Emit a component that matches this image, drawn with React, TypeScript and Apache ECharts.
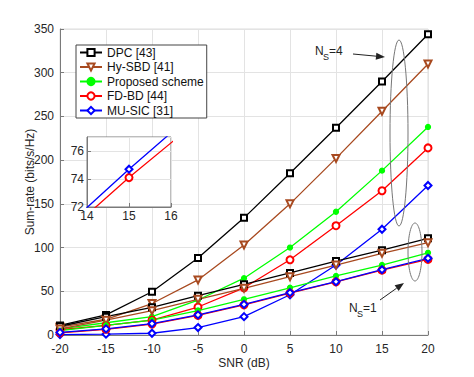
import React, { useEffect, useRef } from 'react';
import * as echarts from 'echarts';

const snr = [-20, -15, -10, -5, 0, 5, 10, 15, 20];
const names = ['DPC [43]', 'Hy-SBD [41]', 'Proposed scheme', 'FD-BD [44]', 'MU-SIC [31]'];
const colors = ['#000000', '#A84A20', '#00FF00', '#FF0000', '#0000FF'];
const symbols = ['emptyRect', 'emptyTriangle', 'circle', 'emptyCircle', 'emptyDiamond'];
const rotations = [0, 180, 0, 0, 0];
const sizes = [6, 7, 5, 7, 7];

// Ns = 4
const dpcNs4 = [11, 23, 49.5, 88, 134, 185, 237, 290, 344];
const hySbdNs4 = [9, 18, 36, 63, 103, 150, 202, 256, 310];
const proposedNs4 = [7, 14, 21, 40, 65, 100, 141, 188, 238];
const fdBdNs4 = [6, 11, 17, 32, 54, 86, 125, 165, 214];
const muSicNs4 = [0.5, 1, 2, 8.5, 21, 46, 80, 121, 171];
// Ns = 1
const dpcNs1 = [10, 21, 31.7, 45, 58, 71, 84.6, 97, 110.6];
const hySbdNs1 = [7, 17, 27.8, 40.8, 53.4, 66.7, 80, 93.4, 105.6];
const proposedNs1 = [5, 11, 17, 28, 40.8, 54, 67.5, 80, 94];
const fdBdNs1 = [2.5, 6.5, 12.5, 22.5, 34.5, 48, 60.8, 74.1, 86.5];
const muSicNs1 = [3, 7, 13, 23, 35, 48.4, 61, 74.7, 87.7];

const ns4 = [dpcNs4, hySbdNs4, proposedNs4, fdBdNs4, muSicNs4];
const ns1 = [dpcNs1, hySbdNs1, proposedNs1, fdBdNs1, muSicNs1];

const yTicks = { min: 0, max: 350, interval: 50 };
const xTicks = { min: -20, max: 20, interval: 5 };
const insetX = { min: 14, max: 16, interval: 1 };
const insetY = { min: 72, max: 77, interval: 2 };

const FONT = 'Liberation Sans, Arial, Helvetica, sans-serif';

function arrow(x1: number, y1: number, x2: number, y2: number) {
  const ang = Math.atan2(y2 - y1, x2 - x1);
  const L = 9, W = 3.5;
  const bx = x2 - L * Math.cos(ang), by = y2 - L * Math.sin(ang);
  const px = -Math.sin(ang) * W, py = Math.cos(ang) * W;
  return [
    { type: 'line', shape: { x1, y1, x2: bx, y2: by }, style: { stroke: '#222', lineWidth: 1 }, z: 30 },
    {
      type: 'polygon',
      shape: { points: [[x2, y2], [bx + px, by + py], [bx - px, by - py]] },
      style: { fill: '#222' },
      z: 30,
    },
  ];
}

function nsLabel(x: number, y: number, num: string) {
  return [
    { type: 'text', x, y, z: 30, style: { text: 'N', fontSize: 12, fontFamily: FONT, fill: '#222', verticalAlign: 'middle' } },
    { type: 'text', x: x + 8, y: y + 6, z: 30, style: { text: 'S', fontSize: 9, fontFamily: FONT, fill: '#222', verticalAlign: 'middle' } },
    { type: 'text', x: x + 14, y, z: 30, style: { text: '=' + num, fontSize: 12, fontFamily: FONT, fill: '#222', verticalAlign: 'middle' } },
  ];
}

export default function App() {
  const ref = useRef<HTMLDivElement>(null);
  useEffect(() => {
    if (!ref.current) return;
    const chart = echarts.init(ref.current, null, { renderer: 'svg' });
    const series: any[] = [];
    const mk = (i: number, data: number[], grid: number, z: number) => ({
      name: names[i],
      type: 'line',
      xAxisIndex: grid,
      yAxisIndex: grid,
      data: snr.map((x, k) => [x, data[k]]),
      symbol: symbols[i],
      symbolSize: sizes[i],
      symbolRotate: rotations[i],
      showAllSymbol: true,
      clip: true,
      z,
      lineStyle: { color: colors[i], width: 1.3 },
      itemStyle: { color: colors[i], borderColor: colors[i], borderWidth: 1.3 },
    });
    for (let i = 0; i < 5; i++) series.push(mk(i, ns4[i], 0, 2));
    for (let i = 0; i < 5; i++) series.push(mk(i, ns1[i], 0, 2));
    // inset: zoom of MU-SIC and FD-BD (Ns=1) around SNR = 15 dB
    series.push(mk(3, ns1[3], 1, 12));
    series.push(mk(4, ns1[4], 1, 12));

    const axisCommon = {
      axisLine: { show: true, onZero: false, lineStyle: { color: '#7a7a7a', width: 1 } },
      axisTick: { show: true, inside: true, length: 4, lineStyle: { color: '#7a7a7a' } },
      axisLabel: { color: '#262626', fontSize: 12, fontFamily: FONT },
      splitLine: { show: true, lineStyle: { color: '#e3e3e3', width: 1 } },
    };

    chart.setOption({
      animation: false,
      backgroundColor: '#ffffff',
      textStyle: { fontFamily: FONT },
      grid: [
        { left: 60, right: 46, top: 29, bottom: 42, show: true, borderColor: '#dddddd', borderWidth: 1, backgroundColor: 'transparent' },
        { left: 87, top: 137, width: 84, height: 70, show: true, borderColor: '#7a7a7a', borderWidth: 1, backgroundColor: '#ffffff', z: 10 },
      ],
      xAxis: [
        {
          type: 'value', gridIndex: 0, ...xTicks, ...axisCommon,
          axisLabel: { ...axisCommon.axisLabel, margin: 8 },
          name: 'SNR (dB)', nameLocation: 'middle', nameGap: 22, nameMoveOverlap: false,
          nameTextStyle: { color: '#262626', fontSize: 12, fontFamily: FONT },
        },
        {
          type: 'value', gridIndex: 1, ...insetX, ...axisCommon, z: 11,
          axisLabel: { ...axisCommon.axisLabel, margin: 3 },
        },
      ],
      yAxis: [
        {
          type: 'value', gridIndex: 0, ...yTicks, ...axisCommon,
          axisLabel: { ...axisCommon.axisLabel, margin: 6 },
          name: 'Sum-rate (bits/s/Hz)', nameLocation: 'middle', nameGap: 24, nameMoveOverlap: false,
          nameTextStyle: { color: '#262626', fontSize: 12, fontFamily: FONT },
        },
        {
          type: 'value', gridIndex: 1, ...insetY, ...axisCommon, z: 11,
          axisLabel: { ...axisCommon.axisLabel, margin: 3, showMaxLabel: false },
        },
      ],
      legend: {
        data: names,
        orient: 'vertical',
        left: 76,
        top: 45,
        itemWidth: 22,
        itemHeight: 9,
        itemGap: 1.5,
        padding: [1, 3, 1, 3],
        backgroundColor: '#ffffff',
        borderColor: '#444444',
        borderWidth: 1,
        borderRadius: 0,
        textStyle: { color: '#111', fontSize: 12, fontFamily: FONT, lineHeight: 13 },
        z: 20,
      },
      series,
      graphic: [
        { type: 'ellipse', z: 30, shape: { cx: 399, cy: 133, rx: 9, ry: 93 }, style: { fill: 'none', stroke: '#777', lineWidth: 1 } },
        { type: 'ellipse', z: 30, shape: { cx: 415, cy: 252, rx: 7, ry: 29 }, style: { fill: 'none', stroke: '#777', lineWidth: 1 } },
        ...arrow(353, 54, 385, 57),
        ...arrow(380, 300, 404, 283),
        ...nsLabel(315, 51, '4'),
        ...nsLabel(349, 308, '1'),
      ],
    });
    return () => chart.dispose();
  }, []);
  return <div ref={ref} style={{ position: 'fixed', left: 0, top: 0, width: 474, height: 377 }} />;
}
